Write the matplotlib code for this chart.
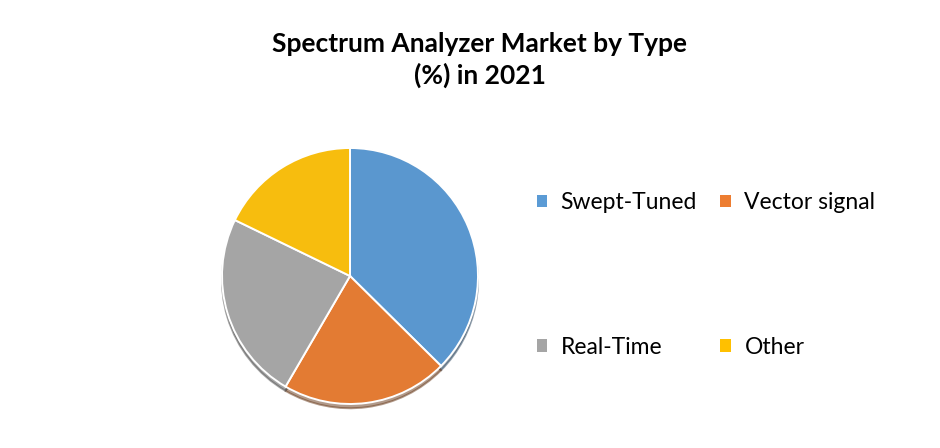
import matplotlib.pyplot as plt
from matplotlib.patches import Patch

# Spectrum analyzer market share by type, 2021 (%)
types = ['Swept-Tuned', 'Vector signal', 'Real-Time', 'Other']
shares = [37.4, 21.0, 23.8, 17.8]
colors = ['#5A97CF', '#E37B33', '#A5A5A5', '#F7BD0E']
legend_colors = ['#5B9BD5', '#ED7D31', '#A5A5A5', '#FFC000']

plt.rcParams['font.family'] = ['Lato', 'DejaVu Sans']

fig = plt.figure(figsize=(9.4, 4.48), dpi=100)

fig.text(480 / 940, 1 - 60 / 448, 'Spectrum Analyzer Market by Type\n(%) in 2021',
         ha='center', va='center', fontsize=19, fontweight='bold',
         linespacing=1.3)

# pie axes: center ~ (350, 276) px, radius ~128 px
r = 128
pad = 1.06
w = 2 * r * pad
ax = fig.add_axes([(350 - w / 2) / 940, (448 - 276 - w / 2) / 448, w / 940, w / 448])
wedges, _ = ax.pie(shares, colors=colors, startangle=90, counterclock=False,
                   wedgeprops=dict(edgecolor='white', linewidth=1.4),
                   shadow=dict(ox=0.0, oy=-0.024, shade=0.55))
ax.set_xlim(-pad, pad)
ax.set_ylim(-pad, pad)
ax.axis('off')

# legend is filled column by column, so reorder to get rows like the reference
order = [0, 2, 1, 3]
handles = [Patch(facecolor=legend_colors[i], edgecolor='none') for i in order]
labels = [types[i] for i in order]
fig.legend(handles, labels, ncol=2, loc='center left',
           bbox_to_anchor=(516 / 940, 1 - 275 / 448),
           frameon=False, fontsize=16.5, handlelength=0.45, handleheight=0.45,
           handletextpad=0.6, columnspacing=1.02, labelspacing=5.37)

fig.savefig('out.png', dpi=100)
